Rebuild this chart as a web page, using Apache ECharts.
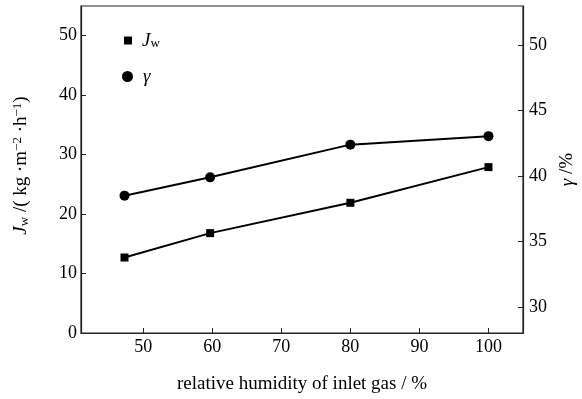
<!DOCTYPE html>
<html>
<head>
<meta charset="utf-8">
<script src="https://cdn.jsdelivr.net/npm/echarts@6/dist/echarts.min.js"></script>
<style>
  html, body { margin: 0; padding: 0; background: #fff; }
  #chart { width: 582px; height: 399px; }
</style>
</head>
<body>
<div id="chart"></div>
<script>
// 데이터
const humidity = [47.3, 59.7, 80, 100];
const jwValues = [12.7, 16.8, 21.9, 27.9];
const gammaValues = [38.5, 39.9, 42.4, 43.05];

// 눈금
const xTicks = [50, 60, 70, 80, 90, 100];
const leftTicks = [0, 10, 20, 30, 40, 50];
const rightTicks = [30, 35, 40, 45, 50];

const FONT = '"Liberation Serif", "DejaVu Serif", serif';
const chart = echarts.init(document.getElementById('chart'));

const tickStyle = { color: '#000', fontFamily: FONT, fontSize: 18 };
const richName = {
    n: { fontFamily: FONT, fontSize: 19, color: '#000' },
    i: { fontFamily: FONT, fontSize: 19, fontStyle: 'italic', color: '#000' },
    sub: { fontFamily: FONT, fontSize: 13, color: '#000', verticalAlign: 'bottom', padding: [7, 0, 0, 0] },
    sup: { fontFamily: FONT, fontSize: 13, color: '#000', verticalAlign: 'top', padding: [0, 0, 7, 0] }
};

const option = {
    animation: false,
    grid: {
        left: 81,
        right: 59,
        top: 6,
        bottom: 66,
        show: true,
        borderColor: '#222',
        borderWidth: 1.2,
        outerBoundsMode: 'none',
        containLabel: false
    },
    legend: [
        {
            data: [{ name: 'Jw', icon: 'rect' }],
            left: 119,
            top: 26,
            itemWidth: 8,
            itemHeight: 8,
            formatter: () => '{i|J}{sub|w}',
            textStyle: { padding: [0, 0, 0, 5], rich: richName }
        },
        {
            data: [{ name: 'gamma', icon: 'circle' }],
            left: 117,
            top: 62,
            itemWidth: 11,
            itemHeight: 11,
            formatter: () => '{i|γ}',
            textStyle: { padding: [0, 0, 0, 5], rich: richName }
        }
    ],
    xAxis: {
        type: 'value',
        min: 41,
        max: 105,
        name: 'relative humidity of inlet gas / %',
        nameLocation: 'middle',
        nameGap: 42,
        nameTextStyle: { fontFamily: FONT, fontSize: 19, color: '#000' },
        axisLine: { lineStyle: { color: '#222', width: 1.2 } },
        axisTick: { inside: true, length: 5, lineStyle: { color: '#222' }, customValues: xTicks },
        axisLabel: Object.assign({ margin: 5, customValues: xTicks }, tickStyle),
        splitLine: { show: false }
    },
    yAxis: [
        {
            type: 'value',
            min: 0,
            max: 55,
            position: 'left',
            name: '{i|J}{sub|w}{n| /( kg ·m}{sup|−2}{n| ·h}{sup|−1}{n|)}',
            nameLocation: 'middle',
            nameRotate: 90,
            nameGap: 50,
            nameTextStyle: { rich: richName, padding: [0, 0, 0, 8] },
            axisLine: { show: true, lineStyle: { color: '#222', width: 1.2 } },
            axisTick: { inside: true, length: 5, lineStyle: { color: '#222' }, customValues: leftTicks },
            axisLabel: Object.assign({ margin: 4, customValues: leftTicks }, tickStyle),
            splitLine: { show: false }
        },
        {
            type: 'value',
            min: 28,
            max: 53,
            position: 'right',
            name: '{i|γ}{n| /%}',
            nameLocation: 'middle',
            nameRotate: 90,
            nameGap: 35,
            nameTextStyle: { rich: richName },
            axisLine: { show: true, lineStyle: { color: '#222', width: 1.2 } },
            axisTick: { inside: true, length: 5, lineStyle: { color: '#222' }, customValues: rightTicks },
            axisLabel: Object.assign({ margin: 6, customValues: rightTicks }, tickStyle),
            splitLine: { show: false }
        }
    ],
    series: [
        {
            name: 'Jw',
            type: 'line',
            yAxisIndex: 0,
            data: humidity.map((h, i) => [h, jwValues[i]]),
            symbol: 'rect',
            symbolSize: 8,
            lineStyle: { color: '#000', width: 2 },
            itemStyle: { color: '#000' }
        },
        {
            name: 'gamma',
            type: 'line',
            yAxisIndex: 1,
            data: humidity.map((h, i) => [h, gammaValues[i]]),
            symbol: 'circle',
            symbolSize: 10,
            lineStyle: { color: '#000', width: 2 },
            itemStyle: { color: '#000' }
        }
    ]
};

chart.setOption(option);
</script>
</body>
</html>
